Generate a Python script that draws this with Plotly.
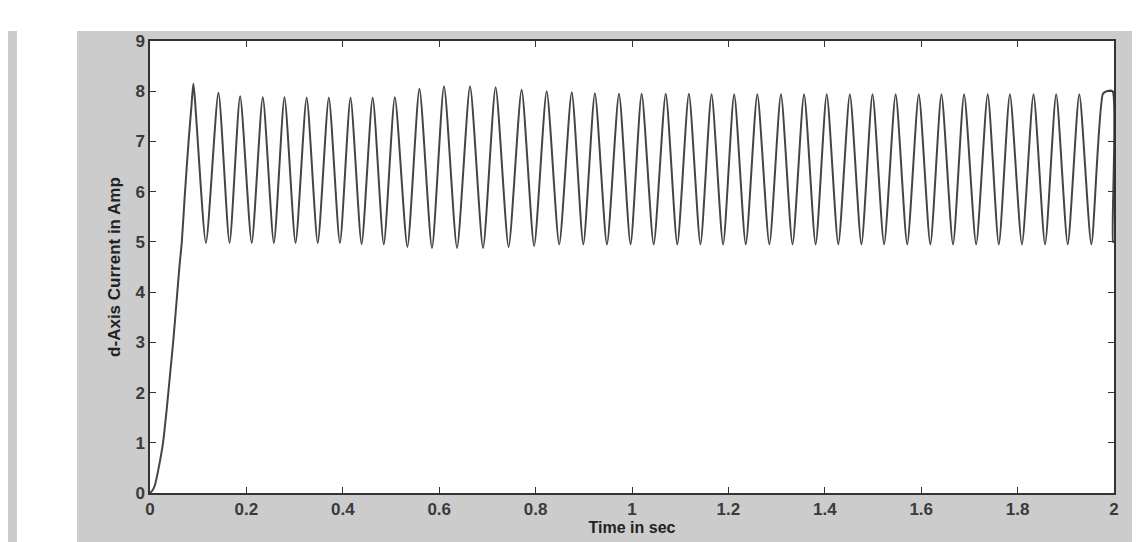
import plotly.graph_objects as go

# ---- data ----
rise_t = [0.0, 0.005, 0.01, 0.018, 0.027, 0.035, 0.042, 0.048, 0.055, 0.061, 0.066, 0.072, 0.080, 0.086]
rise_y = [0.0, 0.05, 0.15, 0.5, 1.0, 1.7, 2.4, 3.0, 3.8, 4.5, 5.0, 5.9, 7.0, 7.7]

peak_t = [0.090, 0.142, 0.187, 0.234, 0.279, 0.325, 0.371, 0.416, 0.462, 0.508,
          0.559, 0.610, 0.664, 0.717, 0.771, 0.823, 0.875, 0.923, 0.973, 1.020,
          1.070, 1.118, 1.165, 1.212, 1.260, 1.309, 1.357, 1.404, 1.452, 1.499,
          1.547, 1.595, 1.642, 1.689, 1.738, 1.784, 1.833, 1.880, 1.928, 1.977]
peak_y = [8.15, 7.97, 7.90, 7.88, 7.88, 7.87, 7.87, 7.87, 7.87, 7.88,
          8.05, 8.10, 8.10, 8.08, 8.03, 8.00, 7.98, 7.96, 7.95, 7.95,
          7.95, 7.95, 7.94, 7.94, 7.94, 7.94, 7.94, 7.94, 7.94, 7.94,
          7.94, 7.94, 7.94, 7.94, 7.94, 7.94, 7.94, 7.94, 7.94, 7.95]

trough_t = [0.116, 0.165, 0.211, 0.257, 0.302, 0.348, 0.394, 0.439, 0.485, 0.534,
            0.585, 0.637, 0.691, 0.744, 0.797, 0.849, 0.899, 0.948, 0.997, 1.045,
            1.094, 1.142, 1.189, 1.236, 1.285, 1.333, 1.381, 1.428, 1.476, 1.523,
            1.571, 1.619, 1.666, 1.714, 1.761, 1.809, 1.857, 1.904, 1.953]
trough_y = [4.98, 4.98, 4.98, 4.98, 4.98, 4.98, 4.98, 4.96, 4.95, 4.90,
            4.88, 4.88, 4.88, 4.90, 4.92, 4.95, 4.95, 4.95, 4.95, 4.95,
            4.95, 4.95, 4.95, 4.95, 4.95, 4.95, 4.95, 4.95, 4.95, 4.95,
            4.95, 4.95, 4.95, 4.95, 4.95, 4.95, 4.95, 4.95, 4.95]

end_t = [1.985, 1.997, 1.998, 2.0]
end_y = [8.0, 8.0, 5.0, 5.0]

x_ticks = [0, 0.2, 0.4, 0.6, 0.8, 1, 1.2, 1.4, 1.6, 1.8, 2]
x_labels = ['0', '0.2', '0.4', '0.6', '0.8', '1', '1.2', '1.4', '1.6', '1.8', '2']

# stitch peaks and troughs into one path
t = list(rise_t); y = list(rise_y)
for i in range(len(peak_t)):
    t.append(peak_t[i]); y.append(peak_y[i])
    if i < len(trough_t):
        t.append(trough_t[i]); y.append(trough_y[i])
t += end_t; y += end_y

fig = go.Figure()
fig.add_trace(go.Scatter(x=t, y=y, mode='lines', line=dict(color='#444444', width=2, shape='spline', smoothing=0.6)))

# paper is gray, white strips cover the top and the gap on the left
L, T, R, B = 142, 33, 34, 57
W, H = 1140 - L - R, 542 - T - B
fig.add_shape(type='rect', xref='paper', yref='paper', x0=-L/W, x1=1+R/W, y0=1+(T-23)/H, y1=1+T/H+0.01,
              fillcolor='white', line_width=0, layer='below')
fig.add_shape(type='rect', xref='paper', yref='paper', x0=(9-L)/W, x1=(69-L)/W, y0=-B/H-0.01, y1=1+T/H+0.01,
              fillcolor='white', line_width=0, layer='below')

tickfont = dict(family='Arial', size=17, color='#3a3a3a')
fig.update_layout(
    width=1140, height=542,
    margin=dict(l=L, r=R, t=T, b=B),
    paper_bgcolor='#cccccc', plot_bgcolor='white',
    showlegend=False,
    xaxis=dict(range=[0, 2], tickvals=x_ticks, ticktext=['<b>%s</b>' % s for s in x_labels],
               ticks='inside', ticklen=6, tickcolor='#333', mirror='ticks', showline=True,
               linecolor='#333', linewidth=1.5, showgrid=False, zeroline=False, tickfont=tickfont,
               title=dict(text='<b>Time in sec</b>', font=dict(family='Arial', size=16, color='#222'), standoff=0),
               automargin=False),
    yaxis=dict(range=[0, 9], tickvals=list(range(10)), ticktext=['<b>%d</b>' % v for v in range(10)],
               ticks='inside', ticklen=6, tickcolor='#333',
               mirror='ticks', showline=True, linecolor='#333', linewidth=1.5, showgrid=False,
               zeroline=False, tickfont=tickfont,
               title=dict(text='<b>d-Axis Current in Amp</b>', font=dict(family='Arial', size=17, color='#222'), standoff=10),
               automargin=False),
)

fig.write_html("out.html")
